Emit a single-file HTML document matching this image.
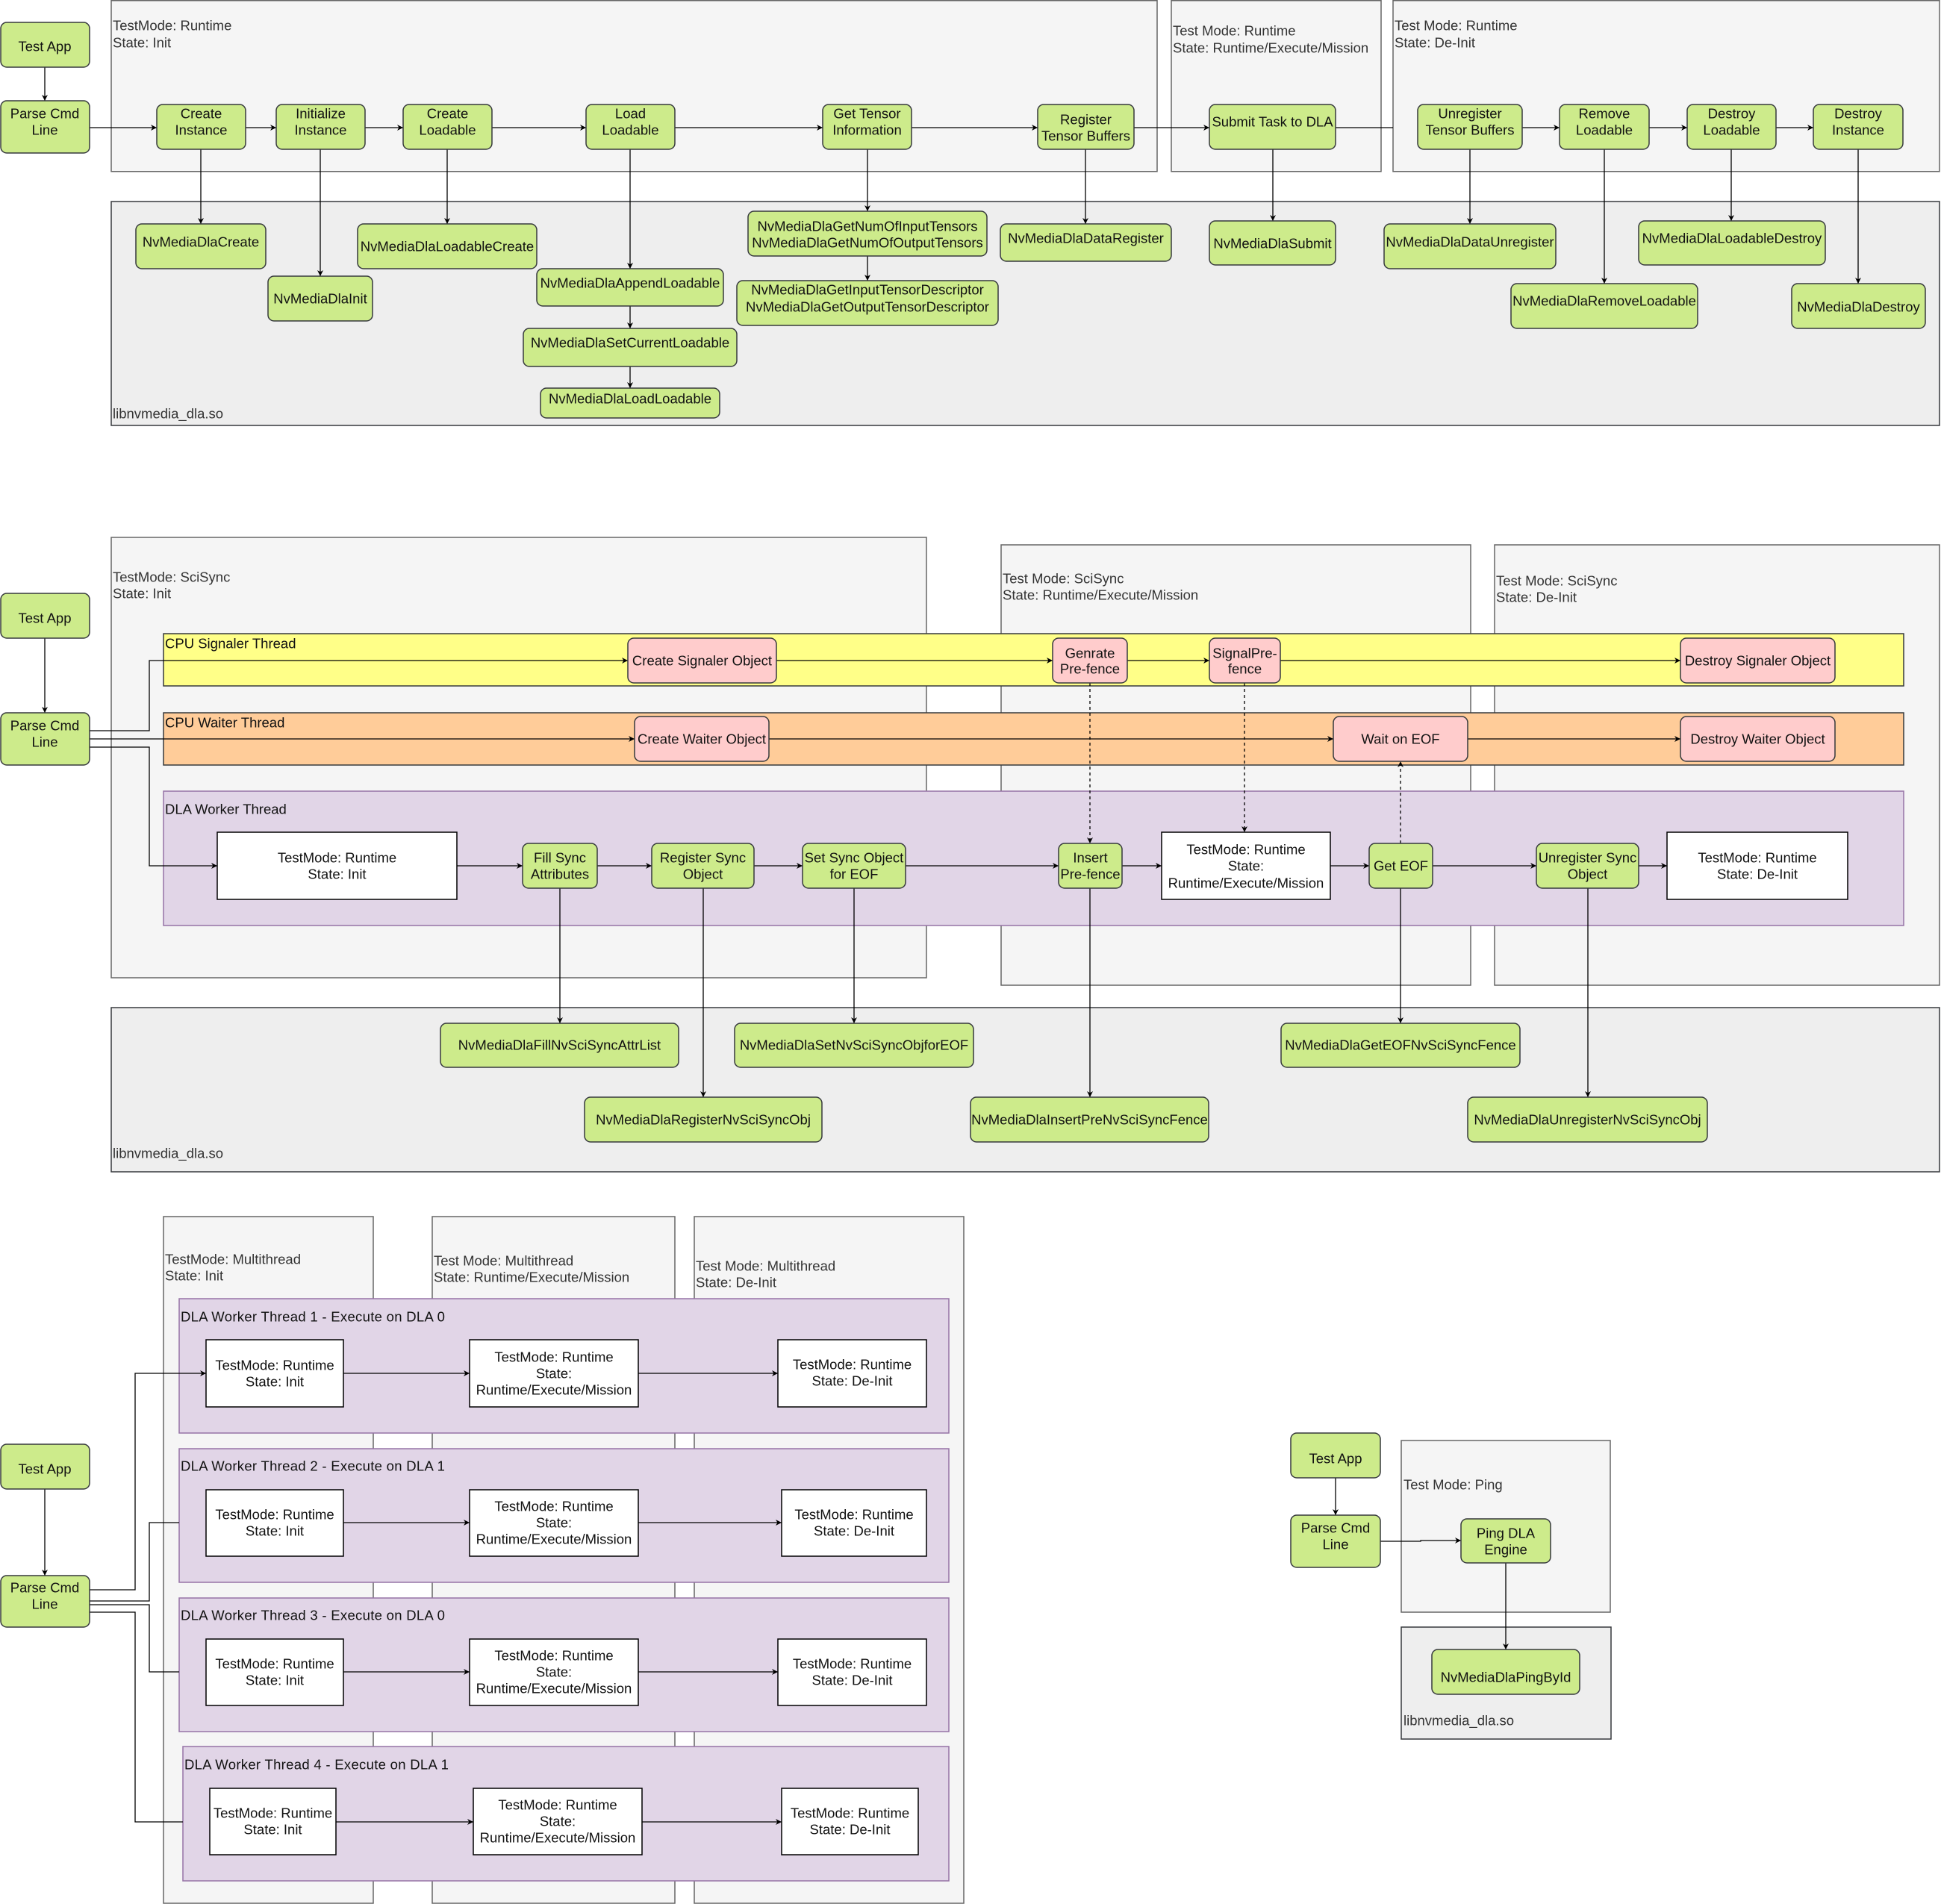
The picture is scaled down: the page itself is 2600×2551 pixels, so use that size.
<!DOCTYPE html>
<html><head><meta charset="utf-8"><style>
html,body{margin:0;padding:0;background:#fff}
svg{display:block}
text{font-family:"Liberation Sans",Arial,sans-serif;font-size:18.5px;dominant-baseline:central;fill:#111}
.m{text-anchor:middle}
.g{fill:#333}
.n{fill:#cdeb8b;stroke:#36393d;stroke-width:1.5}
.p{fill:#ffcccc;stroke:#36393d;stroke-width:1.5}
.w{fill:#fff;stroke:#000;stroke-width:1.5}
.c{fill:#f5f5f5;stroke:#666;stroke-width:1.5}
.l{fill:#eeeeee;stroke:#36393d;stroke-width:1.5}
.y{fill:#ffff88;stroke:#36393d;stroke-width:1.5}
.o{fill:#ffcc99;stroke:#36393d;stroke-width:1.5}
.u{fill:#e1d5e7;stroke:#9673a6;stroke-width:1.5}
.e{fill:none;stroke:#000;stroke-width:1.3}
.d{fill:none;stroke:#000;stroke-width:1.3;stroke-dasharray:4 4}
.ls{letter-spacing:0.3px}
</style></head><body>
<svg width="2600" height="2551" viewBox="0 0 2600 2551" xmlns="http://www.w3.org/2000/svg">
<defs>
<marker id="a" viewBox="0 0 10 10" refX="10" refY="5" markerWidth="8" markerHeight="8" markerUnits="userSpaceOnUse" orient="auto"><path d="M0,0 L10,5 L0,10 L3,5 z" fill="#000"/></marker>
</defs>

<!-- ================= TOP SECTION ================= -->
<rect class="c" x="149" y="0.75" width="1401" height="229"/>
<rect class="c" x="1569" y="0.75" width="281" height="229"/>
<rect class="c" x="1866" y="0.75" width="732" height="229"/>
<rect class="l" x="149" y="270" width="2449" height="300"/>

<text class="g" x="151" y="34">TestMode: Runtime</text>
<text class="g" x="151" y="57">State: Init</text>
<text class="g" x="1571" y="41">Test Mode: Runtime</text>
<text class="g" x="1571" y="64">State: Runtime/Execute/Mission</text>
<text class="g" x="1868" y="34">Test Mode: Runtime</text>
<text class="g" x="1868" y="57">State: De-Init</text>
<text class="g" x="151" y="554">libnvmedia_dla.so</text>

<!-- edges top -->
<path class="e" d="M60,90 L60,135" marker-end="url(#a)"/>
<path class="e" d="M120,171 L210,171" marker-end="url(#a)"/>
<path class="e" d="M329,171 L370,171" marker-end="url(#a)"/>
<path class="e" d="M489,171 L540,171" marker-end="url(#a)"/>
<path class="e" d="M659,171 L785,171" marker-end="url(#a)"/>
<path class="e" d="M904,171 L1102,171" marker-end="url(#a)"/>
<path class="e" d="M1221,171 L1390,171" marker-end="url(#a)"/>
<path class="e" d="M1519,171 L1620,171" marker-end="url(#a)"/>
<path class="e" d="M1789,171 L1866,171"/>
<path class="e" d="M2039,171 L2089,171" marker-end="url(#a)"/>
<path class="e" d="M2209,171 L2260,171" marker-end="url(#a)"/>
<path class="e" d="M2379,171 L2429,171" marker-end="url(#a)"/>

<path class="e" d="M269,200 L269,300" marker-end="url(#a)"/>
<path class="e" d="M429,200 L429,370" marker-end="url(#a)"/>
<path class="e" d="M599,200 L599,300" marker-end="url(#a)"/>
<path class="e" d="M844,200 L844,360" marker-end="url(#a)"/>
<path class="e" d="M844,410 L844,440" marker-end="url(#a)"/>
<path class="e" d="M844,491 L844,520" marker-end="url(#a)"/>
<path class="e" d="M1162,200 L1162,283" marker-end="url(#a)"/>
<path class="e" d="M1162,343 L1162,376" marker-end="url(#a)"/>
<path class="e" d="M1454,200 L1454,300" marker-end="url(#a)"/>
<path class="e" d="M1705,200 L1705,296" marker-end="url(#a)"/>
<path class="e" d="M1969,200 L1969,300" marker-end="url(#a)"/>
<path class="e" d="M2149,200 L2149,380" marker-end="url(#a)"/>
<path class="e" d="M2319,200 L2319,296" marker-end="url(#a)"/>
<path class="e" d="M2489,200 L2489,380" marker-end="url(#a)"/>

<!-- nodes top -->
<rect class="n" x="1" y="30" width="119" height="60" rx="8"/>
<text class="m" x="60" y="62">Test App</text>
<rect class="n" x="1" y="135" width="119" height="70" rx="8"/>
<text class="m" x="60" y="152">Parse Cmd</text><text class="m" x="60" y="174">Line</text>

<rect class="n" x="210" y="140" width="119" height="60" rx="8"/>
<text class="m" x="269.5" y="152">Create</text><text class="m" x="269.5" y="174">Instance</text>
<rect class="n" x="370" y="140" width="119" height="60" rx="8"/>
<text class="m" x="429.5" y="152">Initialize</text><text class="m" x="429.5" y="174">Instance</text>
<rect class="n" x="540" y="140" width="119" height="60" rx="8"/>
<text class="m" x="599.5" y="152">Create</text><text class="m" x="599.5" y="174">Loadable</text>
<rect class="n" x="785" y="140" width="119" height="60" rx="8"/>
<text class="m" x="844.5" y="152">Load</text><text class="m" x="844.5" y="174">Loadable</text>
<rect class="n" x="1102" y="140" width="119" height="60" rx="8"/>
<text class="m" x="1161.5" y="152">Get Tensor</text><text class="m" x="1161.5" y="174">Information</text>
<rect class="n" x="1390" y="140" width="129" height="60" rx="8"/>
<text class="m" x="1454.5" y="160">Register</text><text class="m" x="1454.5" y="182">Tensor Buffers</text>
<rect class="n" x="1620" y="140" width="169" height="60" rx="8"/>
<text class="m" x="1704.5" y="163">Submit Task to DLA</text>
<rect class="n" x="1899" y="140" width="140" height="60" rx="8"/>
<text class="m" x="1969" y="152">Unregister</text><text class="m" x="1969" y="174">Tensor Buffers</text>
<rect class="n" x="2089" y="140" width="120" height="60" rx="8"/>
<text class="m" x="2149" y="152">Remove</text><text class="m" x="2149" y="174">Loadable</text>
<rect class="n" x="2260" y="140" width="119" height="60" rx="8"/>
<text class="m" x="2319.5" y="152">Destroy</text><text class="m" x="2319.5" y="174">Loadable</text>
<rect class="n" x="2429" y="140" width="120" height="60" rx="8"/>
<text class="m" x="2489" y="152">Destroy</text><text class="m" x="2489" y="174">Instance</text>

<!-- lib nodes top -->
<rect class="n" x="182" y="300" width="174" height="60" rx="8"/>
<text class="m" x="269" y="324">NvMediaDlaCreate</text>
<rect class="n" x="359" y="370" width="140" height="60" rx="8"/>
<text class="m" x="429" y="400">NvMediaDlaInit</text>
<rect class="n" x="479" y="300" width="240" height="60" rx="8"/>
<text class="m" x="599" y="330">NvMediaDlaLoadableCreate</text>
<rect class="n" x="719" y="360" width="250" height="50" rx="8"/>
<text class="m" x="844" y="379">NvMediaDlaAppendLoadable</text>
<rect class="n" x="701" y="440" width="286" height="51" rx="8"/>
<text class="m" x="844" y="459">NvMediaDlaSetCurrentLoadable</text>
<rect class="n" x="724" y="520" width="240" height="40" rx="8"/>
<text class="m" x="844" y="534">NvMediaDlaLoadLoadable</text>
<rect class="n" x="1002" y="283" width="320" height="60" rx="8"/>
<text class="m" x="1162" y="303">NvMediaDlaGetNumOfInputTensors</text>
<text class="m" x="1162" y="325">NvMediaDlaGetNumOfOutputTensors</text>
<rect class="n" x="987" y="376" width="350" height="60" rx="8"/>
<text class="m" x="1162" y="388">NvMediaDlaGetInputTensorDescriptor</text>
<text class="m" x="1162" y="411">NvMediaDlaGetOutputTensorDescriptor</text>
<rect class="n" x="1340" y="300" width="229" height="50" rx="8"/>
<text class="m" x="1454.5" y="319">NvMediaDlaDataRegister</text>
<rect class="n" x="1620" y="296" width="169" height="59" rx="8"/>
<text class="m" x="1704.5" y="326">NvMediaDlaSubmit</text>
<rect class="n" x="1854" y="300" width="230" height="60" rx="8"/>
<text class="m" x="1969" y="324">NvMediaDlaDataUnregister</text>
<rect class="n" x="2024" y="380" width="250" height="60" rx="8"/>
<text class="m" x="2149" y="403">NvMediaDlaRemoveLoadable</text>
<rect class="n" x="2195" y="296" width="250" height="59" rx="8"/>
<text class="m" x="2320" y="319">NvMediaDlaLoadableDestroy</text>
<rect class="n" x="2400" y="380" width="179" height="60" rx="8"/>
<text class="m" x="2489.5" y="411">NvMediaDlaDestroy</text>

<!-- ================= MIDDLE SECTION ================= -->
<rect class="c" x="149" y="720" width="1092" height="590"/>
<rect class="c" x="1341" y="730" width="629" height="590"/>
<rect class="c" x="2002" y="730" width="596" height="590"/>
<text class="g" x="151" y="773">TestMode: SciSync</text>
<text class="g" x="151" y="795">State: Init</text>
<text class="g" x="1343" y="775">Test Mode: SciSync</text>
<text class="g" x="1343" y="797">State: Runtime/Execute/Mission</text>
<text class="g" x="2004" y="778">Test Mode: SciSync</text>
<text class="g" x="2004" y="800">State: De-Init</text>

<rect class="y" x="219" y="849" width="2331" height="70"/>
<text x="221" y="862">CPU Signaler Thread</text>
<rect class="o" x="219" y="955" width="2331" height="70"/>
<text x="221" y="968">CPU Waiter Thread</text>
<rect class="u" x="219" y="1060" width="2331" height="180"/>
<text x="221" y="1084">DLA Worker Thread</text>

<rect class="l" x="149" y="1350" width="2449" height="220"/>
<text class="g" x="151" y="1545">libnvmedia_dla.so</text>

<!-- edges middle -->
<path class="e" d="M60,855 L60,955" marker-end="url(#a)"/>
<path class="e" d="M120,979 L200,979 L200,885 L841,885" marker-end="url(#a)"/>
<path class="e" d="M120,990 L850,990" marker-end="url(#a)"/>
<path class="e" d="M120,1001 L200,1001 L200,1160 L291,1160" marker-end="url(#a)"/>
<path class="e" d="M1040,885 L1410,885" marker-end="url(#a)"/>
<path class="e" d="M1510,885 L1620,885" marker-end="url(#a)"/>
<path class="e" d="M1715,885 L2251,885" marker-end="url(#a)"/>
<path class="e" d="M1030,990 L1786,990" marker-end="url(#a)"/>
<path class="e" d="M1966,990 L2251,990" marker-end="url(#a)"/>
<path class="e" d="M612,1160 L700,1160" marker-end="url(#a)"/>
<path class="e" d="M800,1160 L873,1160" marker-end="url(#a)"/>
<path class="e" d="M1010,1160 L1075,1160" marker-end="url(#a)"/>
<path class="e" d="M1213,1160 L1418,1160" marker-end="url(#a)"/>
<path class="e" d="M1503,1160 L1556,1160" marker-end="url(#a)"/>
<path class="e" d="M1782,1160 L1834,1160" marker-end="url(#a)"/>
<path class="e" d="M1919,1160 L2058,1160" marker-end="url(#a)"/>
<path class="e" d="M2195,1160 L2233,1160" marker-end="url(#a)"/>
<path class="d" d="M1460,915 L1460,1130" marker-end="url(#a)"/>
<path class="d" d="M1667,915 L1667,1115" marker-end="url(#a)"/>
<path class="d" d="M1876,1130 L1876,1020" marker-end="url(#a)"/>
<path class="e" d="M750,1190 L750,1371" marker-end="url(#a)"/>
<path class="e" d="M942,1190 L942,1470" marker-end="url(#a)"/>
<path class="e" d="M1144,1190 L1144,1371" marker-end="url(#a)"/>
<path class="e" d="M1460,1190 L1460,1470" marker-end="url(#a)"/>
<path class="e" d="M1876,1190 L1876,1371" marker-end="url(#a)"/>
<path class="e" d="M2127,1190 L2127,1470" marker-end="url(#a)"/>

<!-- nodes middle -->
<rect class="n" x="1" y="795" width="119" height="60" rx="8"/>
<text class="m" x="60" y="828">Test App</text>
<rect class="n" x="1" y="955" width="119" height="70" rx="8"/>
<text class="m" x="60" y="972">Parse Cmd</text><text class="m" x="60" y="994">Line</text>

<rect class="p" x="841" y="855" width="199" height="60" rx="8"/>
<text class="m" x="940.5" y="885">Create Signaler Object</text>
<rect class="p" x="850" y="960" width="180" height="60" rx="8"/>
<text class="m" x="940" y="990">Create Waiter Object</text>
<rect class="p" x="1410" y="855" width="100" height="60" rx="8"/>
<text class="m" x="1460" y="875">Genrate</text><text class="m" x="1460" y="896">Pre-fence</text>
<rect class="p" x="1620" y="855" width="95" height="60" rx="8"/>
<text class="m" x="1667.5" y="875">SignalPre-</text><text class="m" x="1667.5" y="896">fence</text>
<rect class="p" x="2251" y="855" width="207" height="60" rx="8"/>
<text class="m" x="2354.5" y="885">Destroy Signaler Object</text>
<rect class="p" x="1786" y="960" width="180" height="60" rx="8"/>
<text class="m" x="1876" y="990">Wait on EOF</text>
<rect class="p" x="2251" y="960" width="207" height="60" rx="8"/>
<text class="m" x="2354.5" y="990">Destroy Waiter Object</text>

<rect class="w" x="291" y="1115" width="321" height="90"/>
<text class="m" x="451.5" y="1149">TestMode: Runtime</text><text class="m" x="451.5" y="1171">State: Init</text>
<rect class="w" x="1556" y="1115" width="226" height="90"/>
<text class="m" x="1669" y="1138">TestMode: Runtime</text><text class="m" x="1669" y="1160">State:</text><text class="m" x="1669" y="1183">Runtime/Execute/Mission</text>
<rect class="w" x="2233" y="1115" width="242" height="90"/>
<text class="m" x="2354" y="1149">TestMode: Runtime</text><text class="m" x="2354" y="1171">State: De-Init</text>

<rect class="n" x="700" y="1130" width="100" height="60" rx="8"/>
<text class="m" x="750" y="1149">Fill Sync</text><text class="m" x="750" y="1171">Attributes</text>
<rect class="n" x="873" y="1130" width="137" height="60" rx="8"/>
<text class="m" x="941.5" y="1149">Register Sync</text><text class="m" x="941.5" y="1171">Object</text>
<rect class="n" x="1075" y="1130" width="138" height="60" rx="8"/>
<text class="m" x="1144" y="1149">Set Sync Object</text><text class="m" x="1144" y="1171">for EOF</text>
<rect class="n" x="1418" y="1130" width="85" height="60" rx="8"/>
<text class="m" x="1460.5" y="1149">Insert</text><text class="m" x="1460.5" y="1171">Pre-fence</text>
<rect class="n" x="1834" y="1130" width="85" height="60" rx="8"/>
<text class="m" x="1876.5" y="1160">Get EOF</text>
<rect class="n" x="2058" y="1130" width="137" height="60" rx="8"/>
<text class="m" x="2126.5" y="1149">Unregister Sync</text><text class="m" x="2126.5" y="1171">Object</text>

<rect class="n" x="590" y="1371" width="319" height="59" rx="8"/>
<text class="m" x="749.5" y="1400">NvMediaDlaFillNvSciSyncAttrList</text>
<rect class="n" x="984" y="1371" width="320" height="59" rx="8"/>
<text class="m" x="1144" y="1400">NvMediaDlaSetNvSciSyncObjforEOF</text>
<rect class="n" x="1716" y="1371" width="320" height="59" rx="8"/>
<text class="m" x="1876" y="1400">NvMediaDlaGetEOFNvSciSyncFence</text>
<rect class="n" x="783" y="1470" width="318" height="60" rx="8"/>
<text class="m" x="942" y="1500">NvMediaDlaRegisterNvSciSyncObj</text>
<rect class="n" x="1300" y="1470" width="319" height="60" rx="8"/>
<text class="m" x="1459.5" y="1500">NvMediaDlaInsertPreNvSciSyncFence</text>
<rect class="n" x="1966" y="1470" width="321" height="60" rx="8"/>
<text class="m" x="2126.5" y="1500">NvMediaDlaUnregisterNvSciSyncObj</text>

<!-- ================= BOTTOM SECTION ================= -->
<rect class="c" x="219" y="1630" width="281" height="920"/>
<rect class="c" x="579" y="1630" width="325" height="920"/>
<rect class="c" x="930" y="1630" width="361" height="920"/>
<text class="g" x="221" y="1687">TestMode: Multithread</text>
<text class="g" x="221" y="1709">State: Init</text>
<text class="g" x="581" y="1689">Test Mode: Multithread</text>
<text class="g" x="581" y="1711">State: Runtime/Execute/Mission</text>
<text class="g" x="932" y="1696">Test Mode: Multithread</text>
<text class="g" x="932" y="1718">State: De-Init</text>

<rect class="u" x="240" y="1740" width="1031" height="180"/>
<text class="ls" x="242" y="1764">DLA Worker Thread 1 - Execute on DLA 0</text>
<rect class="u" x="240" y="1941" width="1031" height="179"/>
<text class="ls" x="242" y="1964">DLA Worker Thread 2 - Execute on DLA 1</text>
<rect class="u" x="240" y="2141" width="1031" height="179"/>
<text class="ls" x="242" y="2164">DLA Worker Thread 3 - Execute on DLA 0</text>
<rect class="u" x="245" y="2340" width="1026" height="180"/>
<text class="ls" x="247" y="2364">DLA Worker Thread 4 - Execute on DLA 1</text>

<!-- edges bottom -->
<path class="e" d="M60,1995 L60,2111" marker-end="url(#a)"/>
<path class="e" d="M120,2130 L181,2130 L181,1840 L276,1840" marker-end="url(#a)"/>
<path class="e" d="M120,2145 L200,2145 L200,2040 L240,2040"/>
<path class="e" d="M120,2150 L200,2150 L200,2240 L240,2240"/>
<path class="e" d="M120,2160 L181,2160 L181,2441 L245,2441"/>
<path class="e" d="M460,1840 L629,1840" marker-end="url(#a)"/>
<path class="e" d="M855,1840 L1042,1840" marker-end="url(#a)"/>
<path class="e" d="M460,2040 L629,2040" marker-end="url(#a)"/>
<path class="e" d="M855,2040 L1047,2040" marker-end="url(#a)"/>
<path class="e" d="M460,2240 L629,2240" marker-end="url(#a)"/>
<path class="e" d="M855,2240 L1042,2240" marker-end="url(#a)"/>
<path class="e" d="M450,2441 L634,2441" marker-end="url(#a)"/>
<path class="e" d="M860,2441 L1047,2441" marker-end="url(#a)"/>

<rect class="n" x="1" y="1935" width="119" height="60" rx="8"/>
<text class="m" x="60" y="1968">Test App</text>
<rect class="n" x="1" y="2111" width="119" height="69" rx="8"/>
<text class="m" x="60" y="2127">Parse Cmd</text><text class="m" x="60" y="2149">Line</text>

<rect class="w" x="276" y="1795" width="184" height="90"/>
<text class="m" x="368" y="1829">TestMode: Runtime</text><text class="m" x="368" y="1851">State: Init</text>
<rect class="w" x="629" y="1795" width="226" height="90"/>
<text class="m" x="742" y="1818">TestMode: Runtime</text><text class="m" x="742" y="1840">State:</text><text class="m" x="742" y="1862">Runtime/Execute/Mission</text>
<rect class="w" x="1042" y="1795" width="199" height="90"/>
<text class="m" x="1141.5" y="1828">TestMode: Runtime</text><text class="m" x="1141.5" y="1850">State: De-Init</text>

<rect class="w" x="276" y="1996" width="184" height="89"/>
<text class="m" x="368" y="2029">TestMode: Runtime</text><text class="m" x="368" y="2051">State: Init</text>
<rect class="w" x="629" y="1996" width="226" height="89"/>
<text class="m" x="742" y="2018">TestMode: Runtime</text><text class="m" x="742" y="2040">State:</text><text class="m" x="742" y="2062">Runtime/Execute/Mission</text>
<rect class="w" x="1047" y="1996" width="194" height="89"/>
<text class="m" x="1144" y="2029">TestMode: Runtime</text><text class="m" x="1144" y="2051">State: De-Init</text>

<rect class="w" x="276" y="2196" width="184" height="89"/>
<text class="m" x="368" y="2229">TestMode: Runtime</text><text class="m" x="368" y="2251">State: Init</text>
<rect class="w" x="629" y="2196" width="226" height="89"/>
<text class="m" x="742" y="2218">TestMode: Runtime</text><text class="m" x="742" y="2240">State:</text><text class="m" x="742" y="2262">Runtime/Execute/Mission</text>
<rect class="w" x="1042" y="2196" width="199" height="89"/>
<text class="m" x="1141.5" y="2229">TestMode: Runtime</text><text class="m" x="1141.5" y="2251">State: De-Init</text>

<rect class="w" x="281" y="2396" width="169" height="89"/>
<text class="m" x="365.5" y="2429">TestMode: Runtime</text><text class="m" x="365.5" y="2451">State: Init</text>
<rect class="w" x="634" y="2396" width="226" height="89"/>
<text class="m" x="747" y="2418">TestMode: Runtime</text><text class="m" x="747" y="2440">State:</text><text class="m" x="747" y="2462">Runtime/Execute/Mission</text>
<rect class="w" x="1047" y="2396" width="183" height="89"/>
<text class="m" x="1138.5" y="2429">TestMode: Runtime</text><text class="m" x="1138.5" y="2451">State: De-Init</text>

<!-- ================= PING SECTION ================= -->
<rect class="c" x="1877" y="1930" width="280" height="230"/>
<text class="g" x="1880" y="1989">Test Mode: Ping</text>
<rect class="l" x="1877" y="2180" width="281" height="150"/>
<text class="g" x="1880" y="2305">libnvmedia_dla.so</text>

<path class="e" d="M1789,1980 L1789,2030" marker-end="url(#a)"/>
<path class="e" d="M1849,2065 L1903,2065 L1903,2064 L1957,2064" marker-end="url(#a)"/>
<path class="e" d="M2017,2094 L2017,2210" marker-end="url(#a)"/>

<rect class="n" x="1729" y="1920" width="120" height="60" rx="8"/>
<text class="m" x="1789" y="1954">Test App</text>
<rect class="n" x="1729" y="2030" width="120" height="70" rx="8"/>
<text class="m" x="1789" y="2047">Parse Cmd</text><text class="m" x="1789" y="2069">Line</text>
<rect class="n" x="1957" y="2035" width="120" height="59" rx="8"/>
<text class="m" x="2017" y="2054">Ping DLA</text><text class="m" x="2017" y="2076">Engine</text>
<rect class="n" x="1918" y="2210" width="198" height="60" rx="8"/>
<text class="m" x="2017" y="2247">NvMediaDlaPingById</text>
</svg>
</body></html>
